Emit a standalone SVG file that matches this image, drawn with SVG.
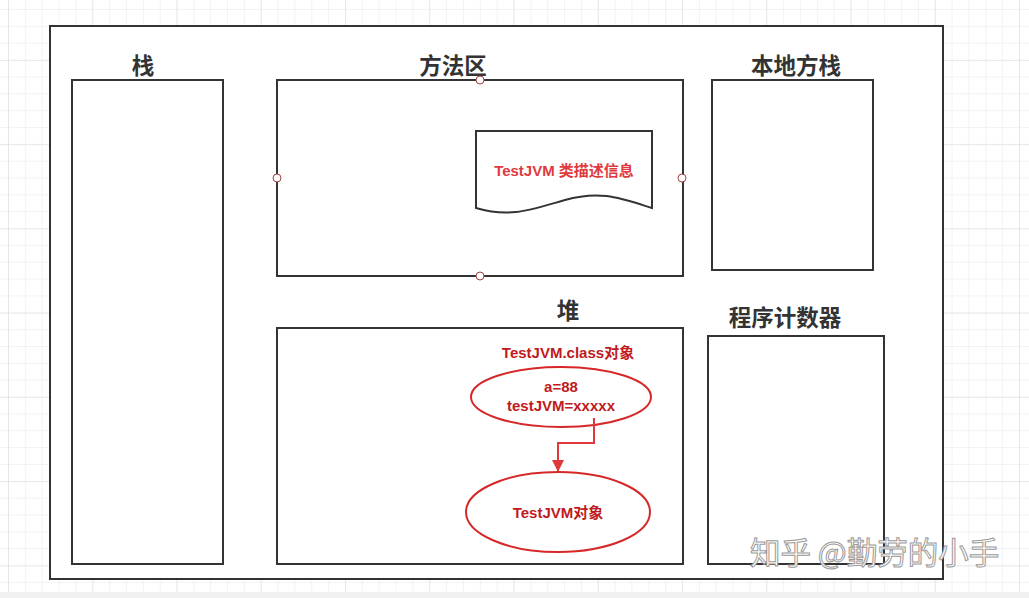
<svg xmlns="http://www.w3.org/2000/svg" width="1029" height="598" viewBox="0 0 1029 598">
<defs>
<pattern id="minor" width="16.85" height="16.85" patternUnits="userSpaceOnUse" x="8" y="9">
<path d="M0 0H16.85M0 0V16.85" fill="none" stroke="#e8e8e8" stroke-width="1"/>
</pattern>
<pattern id="major" width="84.25" height="84.25" patternUnits="userSpaceOnUse" x="8" y="60">
<path d="M0 0H84.25M0 0V84.25" fill="none" stroke="#dcdcdc" stroke-width="1"/>
</pattern>
<marker id="arr" markerWidth="12" markerHeight="12" refX="11" refY="6" orient="auto" markerUnits="userSpaceOnUse">
<path d="M0 0L12 6L0 12Z" fill="#e0383a"/>
</marker>
</defs>
<style>
.box{fill:#fff;stroke:#333;stroke-width:2}
.lbl{font-family:"Noto Sans CJK SC","Liberation Sans",sans-serif;font-weight:bold;font-size:22.5px;fill:#333;text-anchor:middle}
.rt{font-family:"Liberation Sans","Noto Sans CJK SC",sans-serif;font-weight:bold;font-size:15px;text-anchor:middle}
.pt{fill:#fff;stroke:#a04040;stroke-width:1}
.ell{fill:#fff;stroke:#d62828;stroke-width:2}
</style>
<rect width="1029" height="598" fill="#fff"/>
<rect width="1029" height="592" fill="url(#minor)"/>
<rect width="1029" height="592" fill="url(#major)"/>
<rect y="592" width="1029" height="6" fill="#f0f0f0"/>
<g id="outer"><rect class="box" x="50" y="26" width="893" height="553"/></g>
<g id="stack">
<rect class="box" x="72" y="80" width="151" height="484"/>
<text class="lbl" x="143" y="74">栈</text>
</g>
<g id="method-area">
<rect class="box" x="277" y="80" width="406" height="196"/>
<text class="lbl" x="453" y="74">方法区</text>
<circle class="pt" cx="480" cy="80" r="4"/>
<circle class="pt" cx="277" cy="178" r="4"/>
<circle class="pt" cx="682" cy="178" r="4"/>
<circle class="pt" cx="480" cy="276" r="4"/>
</g>
<g id="class-info">
<path d="M476 131H652V208C620 198 600 190 565 200S510 218 476 208Z" fill="#fff" stroke="#333" stroke-width="2"/>
<text class="rt" x="564" y="176" fill="#e03a3e">TestJVM 类描述信息</text>
</g>
<g id="native-stack">
<rect class="box" x="712" y="80" width="161" height="190"/>
<text class="lbl" x="796" y="74">本地方栈</text>
</g>
<g id="heap">
<rect class="box" x="277" y="328" width="406" height="236"/>
<text class="lbl" x="568" y="319">堆</text>
<text class="rt" x="568" y="358" fill="#c01a20">TestJVM.class对象</text>
</g>
<g id="class-obj">
<ellipse class="ell" cx="561" cy="397" rx="90" ry="30"/>
<text class="rt" x="561" y="392" fill="#c01a20">a=88</text>
<text class="rt" x="561" y="411" fill="#c01a20">testJVM=xxxxx</text>
</g>
<g id="jvm-obj">
<ellipse class="ell" cx="558" cy="512" rx="92" ry="40"/>
<text class="rt" x="558" y="518" fill="#c01a20">TestJVM对象</text>
</g>
<g id="pc">
<rect class="box" x="708" y="336" width="176" height="228"/>
<text class="lbl" x="785" y="326">程序计数器</text>
</g>
<g id="connectors">
<path d="M594 418V443H558V471" fill="none" stroke="#e0383a" stroke-width="2" marker-end="url(#arr)"/>
</g>
<text x="750" y="564" font-family="Noto Sans CJK SC,sans-serif" font-size="30.5" fill="#fff" stroke="#9a9a9a" stroke-width="1">知乎 @勤劳的小手</text>
</svg>
